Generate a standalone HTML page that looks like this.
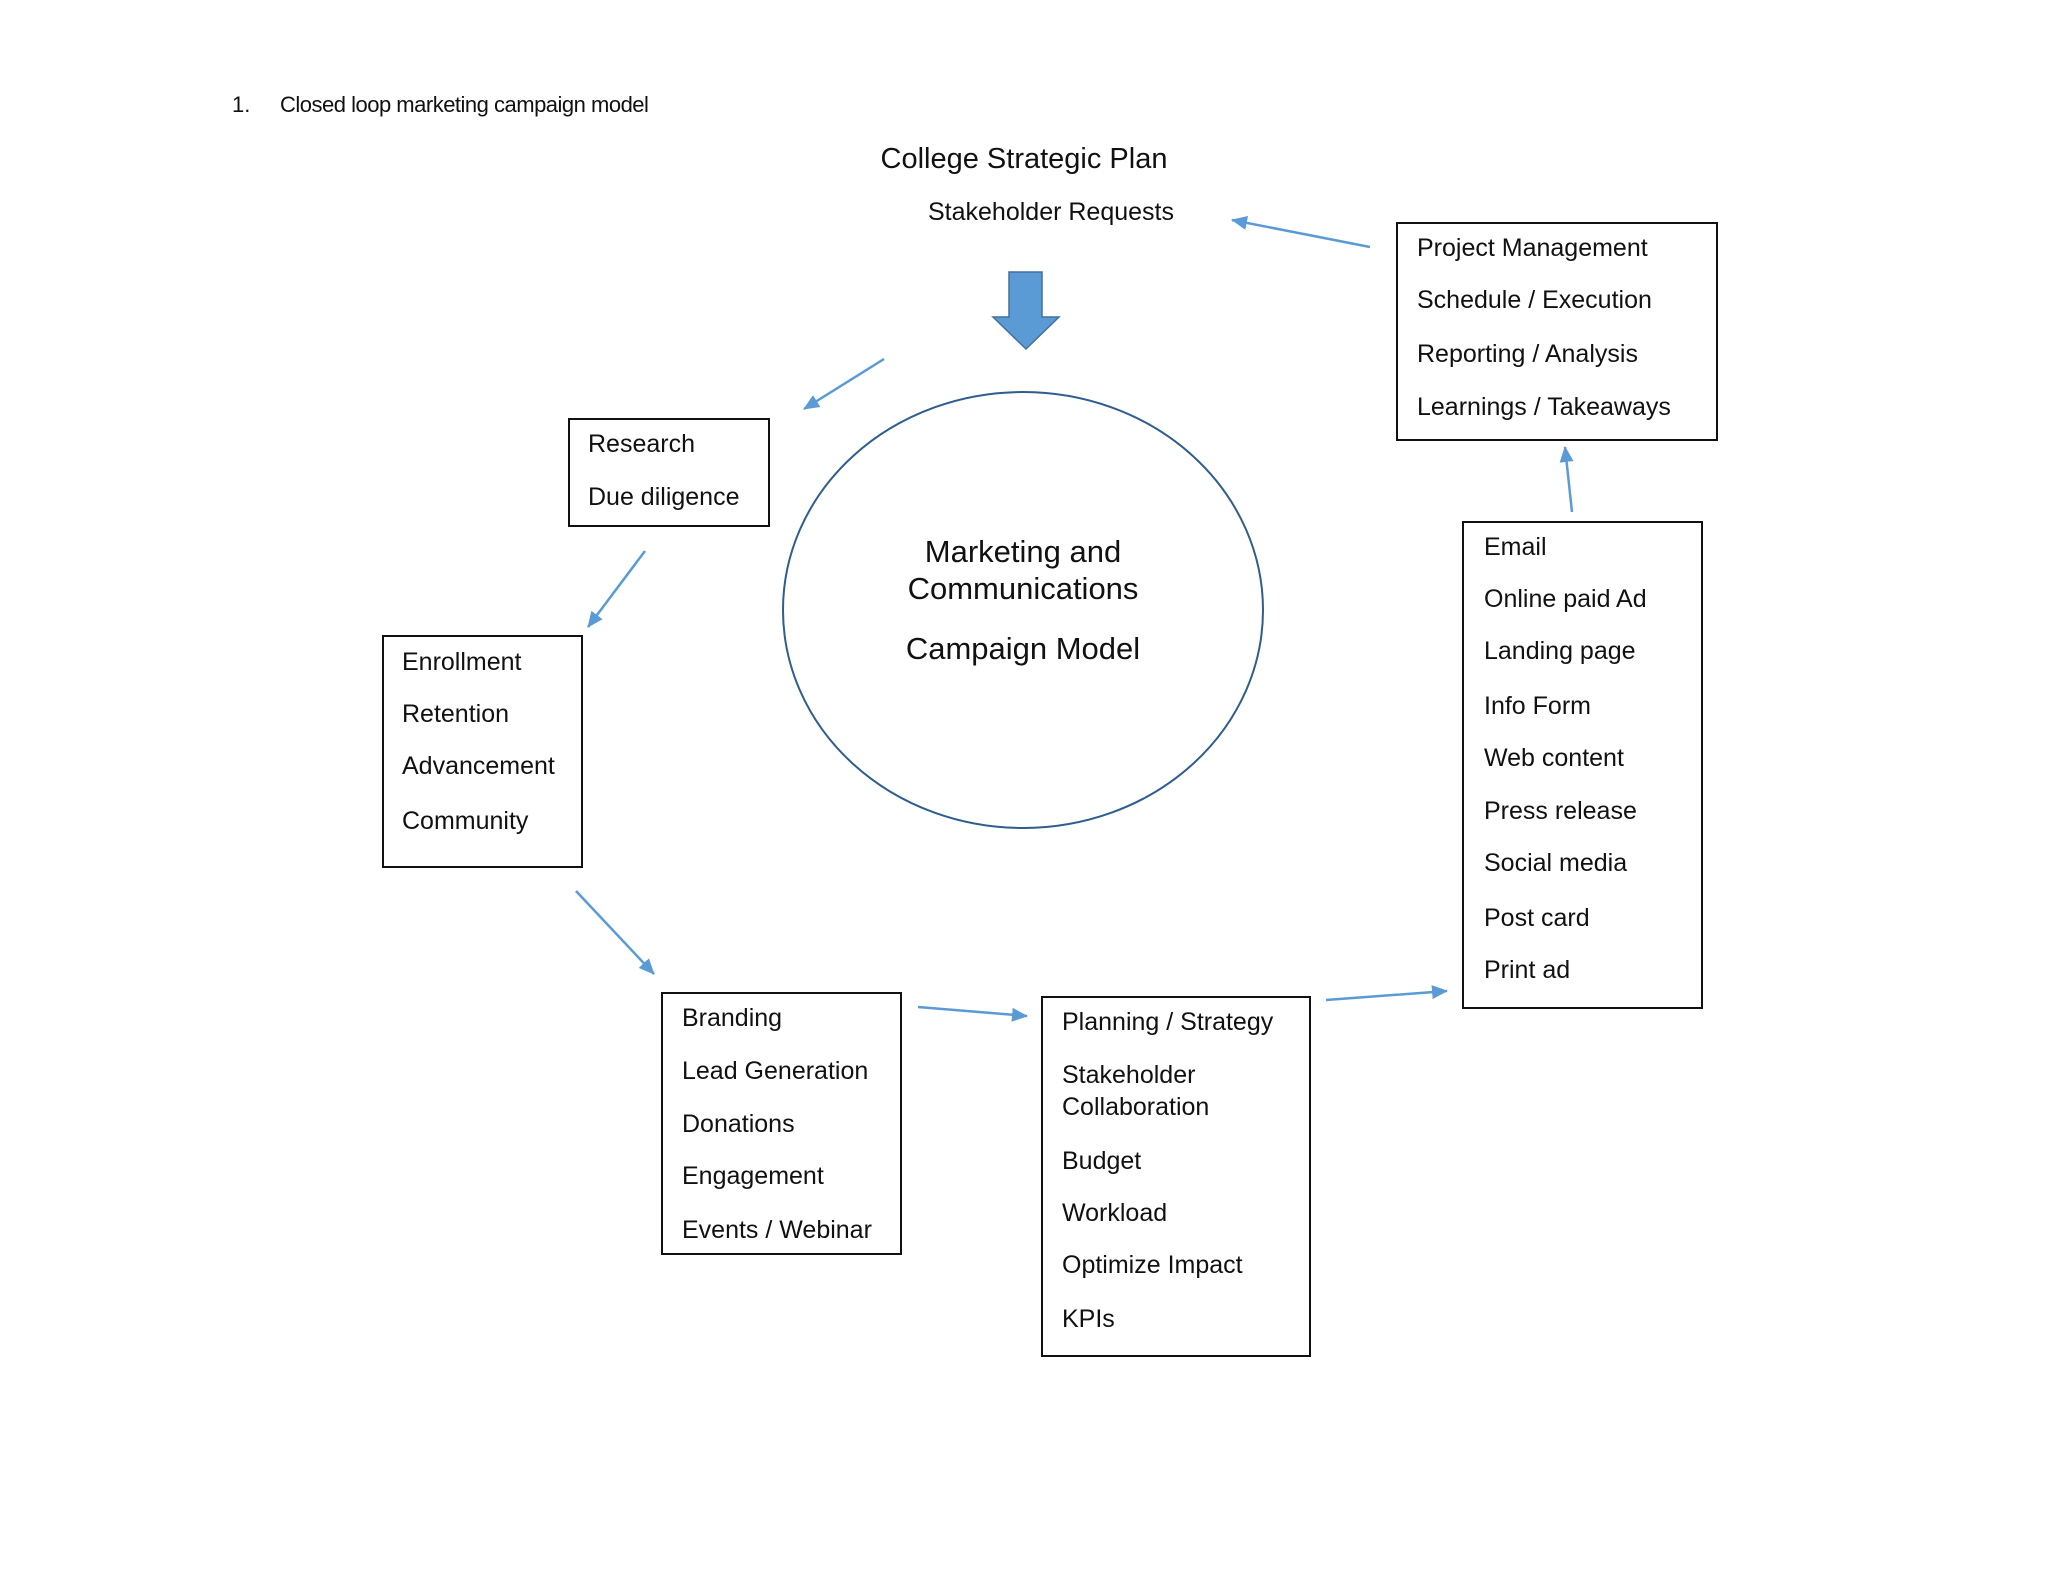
<!DOCTYPE html>
<html><head><meta charset="utf-8"><style>
html,body{margin:0;padding:0;background:#fff;}
svg{display:block;}
text{font-family:"Liberation Sans",Arial,sans-serif;fill:#111;}
</style></head><body>
<svg width="2048" height="1582" viewBox="0 0 2048 1582" xmlns="http://www.w3.org/2000/svg">
<defs>
<marker id="ah" markerWidth="10" markerHeight="10" refX="9" refY="5" orient="auto" markerUnits="userSpaceOnUse" viewBox="0 0 10 10">
<path d="M0,0 L10,5 L0,10 z" fill="#5b9bd5"/>
</marker>
<marker id="a" markerWidth="16" markerHeight="14" refX="15" refY="7" orient="auto" markerUnits="userSpaceOnUse">
<path d="M0,0 L16,7 L0,14 z" fill="#5b9bd5"/>
</marker>
</defs>
<text x="232" y="112" font-size="22">1.</text>
<text x="280" y="112" font-size="22" letter-spacing="-0.5">Closed loop marketing campaign model</text>
<text x="1024" y="168" font-size="29" text-anchor="middle">College Strategic Plan</text>
<text x="1051" y="220" font-size="25" text-anchor="middle">Stakeholder Requests</text>
<path d="M1009,272 L1042,272 L1042,317 L1059,317 L1026,349 L993,317 L1009,317 Z" fill="#5b9bd5" stroke="#41719c" stroke-width="1.5"/>
<ellipse cx="1023" cy="610" rx="240" ry="218" fill="none" stroke="#2e5d8e" stroke-width="2"/>
<text x="1023" y="562" font-size="31" text-anchor="middle">Marketing and</text>
<text x="1023" y="599" font-size="31" text-anchor="middle">Communications</text>
<text x="1023" y="659" font-size="31" text-anchor="middle">Campaign Model</text>
<g fill="none" stroke="#111" stroke-width="2">
<rect x="569" y="419" width="200" height="107"/>
<rect x="383" y="636" width="199" height="231"/>
<rect x="662" y="993" width="239" height="261"/>
<rect x="1042" y="997" width="268" height="359"/>
<rect x="1463" y="522" width="239" height="486"/>
<rect x="1397" y="223" width="320" height="217"/>
</g>
<g font-size="25">
<text x="588" y="452">Research</text>
<text x="588" y="505">Due diligence</text>
<text x="402" y="670">Enrollment</text>
<text x="402" y="722">Retention</text>
<text x="402" y="774">Advancement</text>
<text x="402" y="829">Community</text>
<text x="682" y="1026">Branding</text>
<text x="682" y="1079">Lead Generation</text>
<text x="682" y="1132">Donations</text>
<text x="682" y="1184">Engagement</text>
<text x="682" y="1238">Events / Webinar</text>
<text x="1062" y="1030">Planning / Strategy</text>
<text x="1062" y="1083">Stakeholder</text>
<text x="1062" y="1115">Collaboration</text>
<text x="1062" y="1169">Budget</text>
<text x="1062" y="1221">Workload</text>
<text x="1062" y="1273">Optimize Impact</text>
<text x="1062" y="1327">KPIs</text>
<text x="1484" y="555">Email</text>
<text x="1484" y="607">Online paid Ad</text>
<text x="1484" y="659">Landing page</text>
<text x="1484" y="714">Info Form</text>
<text x="1484" y="766">Web content</text>
<text x="1484" y="819">Press release</text>
<text x="1484" y="871">Social media</text>
<text x="1484" y="926">Post card</text>
<text x="1484" y="978">Print ad</text>
<text x="1417" y="256">Project Management</text>
<text x="1417" y="308">Schedule / Execution</text>
<text x="1417" y="362">Reporting  / Analysis</text>
<text x="1417" y="415">Learnings  / Takeaways</text>
</g>
<g stroke="#5b9bd5" stroke-width="2.5" fill="none" marker-end="url(#a)">
<line x1="1370" y1="247" x2="1232" y2="220"/>
<line x1="884" y1="359" x2="804" y2="409"/>
<line x1="645" y1="551" x2="588" y2="627"/>
<line x1="576" y1="891" x2="654" y2="974"/>
<line x1="918" y1="1007" x2="1027" y2="1016"/>
<line x1="1326" y1="1000" x2="1447" y2="991"/>
<line x1="1572" y1="512" x2="1565" y2="447"/>
</g>
</svg>
</body></html>
